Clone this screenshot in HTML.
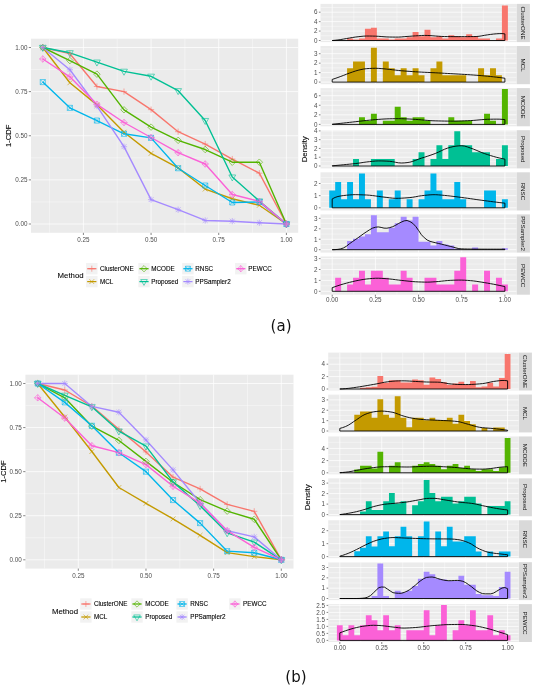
<!DOCTYPE html>
<html lang="en">
<head>
<meta charset="utf-8">
<title>CDF and density comparison of clustering methods</title>
<style>html,body{margin:0;padding:0;background:#fff}body{width:536px;height:685px;overflow:hidden}</style>
</head>
<body>
<svg width="536" height="685" viewBox="0 0 536 685" font-family='"Liberation Sans", "DejaVu Sans", sans-serif' style="display:block;filter:blur(0.45px)">
<rect width="536" height="685" fill="#fff"/>
<rect x="31" y="38.7" width="267.2" height="194.1" fill="#ebebeb"/>
<path d="M49.57 38.7V232.8M31 201.94H298.2M117.23 38.7V232.8M31 157.81H298.2M184.9 38.7V232.8M31 113.69H298.2M252.57 38.7V232.8M31 69.56H298.2" stroke="#ffffff" stroke-width="0.4" fill="none"/>
<path d="M83.4 38.7V232.8M151.07 38.7V232.8M218.73 38.7V232.8M286.4 38.7V232.8M31 224H298.2M31 179.88H298.2M31 135.75H298.2M31 91.62H298.2M31 47.5H298.2" stroke="#ffffff" stroke-width="0.75" fill="none"/>
<text x="83.4" y="241.6" text-anchor="middle" font-size="6.3" fill="#4d4d4d">0.25</text>
<text x="151.07" y="241.6" text-anchor="middle" font-size="6.3" fill="#4d4d4d">0.50</text>
<text x="218.73" y="241.6" text-anchor="middle" font-size="6.3" fill="#4d4d4d">0.75</text>
<text x="286.4" y="241.6" text-anchor="middle" font-size="6.3" fill="#4d4d4d">1.00</text>
<text x="27.4" y="226.25" text-anchor="end" font-size="6.3" fill="#4d4d4d">0.00</text>
<text x="27.4" y="182.12" text-anchor="end" font-size="6.3" fill="#4d4d4d">0.25</text>
<text x="27.4" y="138" text-anchor="end" font-size="6.3" fill="#4d4d4d">0.50</text>
<text x="27.4" y="93.88" text-anchor="end" font-size="6.3" fill="#4d4d4d">0.75</text>
<text x="27.4" y="49.75" text-anchor="end" font-size="6.3" fill="#4d4d4d">1.00</text>
<path d="M83.4 232.8v2.2M151.07 232.8v2.2M218.73 232.8v2.2M286.4 232.8v2.2M31 224h-2.2M31 179.88h-2.2M31 135.75h-2.2M31 91.62h-2.2M31 47.5h-2.2" stroke="#333" stroke-width="0.6" fill="none"/>
<text transform="translate(11.2 135.75) rotate(-90)" text-anchor="middle" font-size="7.6" fill="#000" stroke="#000" stroke-width="0.1">1-CDF</text>
<polyline points="42.8,47.5 69.87,53.68 96.93,86.51 124,91.62 151.07,109.63 178.13,131.69 205.2,144.05 232.27,159.05 259.33,173.17 286.4,224" fill="none" stroke="#F8766D" stroke-width="1.4" stroke-linejoin="round"/>
<polyline points="42.8,47.5 69.87,82.8 96.93,104.86 124,132.22 151.07,153.4 178.13,167.87 205.2,189.05 232.27,198.76 259.33,205.29 286.4,224" fill="none" stroke="#C49A00" stroke-width="1.4" stroke-linejoin="round"/>
<polyline points="42.8,47.5 69.87,60.56 96.93,74.15 124,109.8 151.07,127.1 178.13,140.34 205.2,149.52 232.27,162.22 259.33,162.22 286.4,224" fill="none" stroke="#53B400" stroke-width="1.4" stroke-linejoin="round"/>
<polyline points="42.8,47.5 69.87,52.8 96.93,62.15 124,71.33 151.07,76.27 178.13,90.74 205.2,120.57 232.27,177.05 259.33,201.06 286.4,224" fill="none" stroke="#00C094" stroke-width="1.4" stroke-linejoin="round"/>
<polyline points="42.8,82.09 69.87,107.86 96.93,120.57 124,133.81 151.07,137.87 178.13,168.23 205.2,185.52 232.27,202.47 259.33,201.94 286.4,224" fill="none" stroke="#00B6EB" stroke-width="1.4" stroke-linejoin="round"/>
<polyline points="42.8,47.5 69.87,69.74 96.93,106.1 124,146.69 151.07,199.64 178.13,209.7 205.2,220.47 232.27,221.18 259.33,222.76 286.4,224" fill="none" stroke="#A58AFF" stroke-width="1.4" stroke-linejoin="round"/>
<polyline points="42.8,58.97 69.87,76.8 96.93,104.33 124,122.51 151.07,137.51 178.13,152.69 205.2,163.99 232.27,194.52 259.33,201.41 286.4,224" fill="none" stroke="#FB61D7" stroke-width="1.4" stroke-linejoin="round"/>
<path d="M39.7 47.5H45.9M42.8 44.4V50.6" stroke="#F8766D" stroke-width="0.6" fill="none"/><path d="M66.77 53.68H72.97M69.87 50.58V56.78" stroke="#F8766D" stroke-width="0.6" fill="none"/><path d="M93.83 86.51H100.03M96.93 83.41V89.61" stroke="#F8766D" stroke-width="0.6" fill="none"/><path d="M120.9 91.62H127.1M124 88.53V94.72" stroke="#F8766D" stroke-width="0.6" fill="none"/><path d="M147.97 109.63H154.17M151.07 106.53V112.73" stroke="#F8766D" stroke-width="0.6" fill="none"/><path d="M175.03 131.69H181.23M178.13 128.59V134.79" stroke="#F8766D" stroke-width="0.6" fill="none"/><path d="M202.1 144.05H208.3M205.2 140.95V147.15" stroke="#F8766D" stroke-width="0.6" fill="none"/><path d="M229.17 159.05H235.37M232.27 155.95V162.15" stroke="#F8766D" stroke-width="0.6" fill="none"/><path d="M256.23 173.17H262.43M259.33 170.07V176.27" stroke="#F8766D" stroke-width="0.6" fill="none"/><path d="M283.3 224H289.5M286.4 220.9V227.1" stroke="#F8766D" stroke-width="0.6" fill="none"/>
<path d="M40.38 45.08L45.22 49.92M40.38 49.92L45.22 45.08" stroke="#C49A00" stroke-width="0.6" fill="none"/><path d="M67.45 80.38L72.28 85.22M67.45 85.22L72.28 80.38" stroke="#C49A00" stroke-width="0.6" fill="none"/><path d="M94.52 102.44L99.35 107.28M94.52 107.28L99.35 102.44" stroke="#C49A00" stroke-width="0.6" fill="none"/><path d="M121.58 129.8L126.42 134.64M121.58 134.64L126.42 129.8" stroke="#C49A00" stroke-width="0.6" fill="none"/><path d="M148.65 150.98L153.48 155.82M148.65 155.82L153.48 150.98" stroke="#C49A00" stroke-width="0.6" fill="none"/><path d="M175.72 165.45L180.55 170.29M175.72 170.29L180.55 165.45" stroke="#C49A00" stroke-width="0.6" fill="none"/><path d="M202.78 186.63L207.62 191.47M202.78 191.47L207.62 186.63" stroke="#C49A00" stroke-width="0.6" fill="none"/><path d="M229.85 196.34L234.68 201.18M229.85 201.18L234.68 196.34" stroke="#C49A00" stroke-width="0.6" fill="none"/><path d="M256.92 202.87L261.75 207.71M256.92 207.71L261.75 202.87" stroke="#C49A00" stroke-width="0.6" fill="none"/><path d="M283.98 221.58L288.82 226.42M283.98 226.42L288.82 221.58" stroke="#C49A00" stroke-width="0.6" fill="none"/>
<path d="M42.8 44.24L46.05 47.5L42.8 50.76L39.54 47.5Z" stroke="#53B400" stroke-width="0.6" fill="none"/><path d="M69.87 57.31L73.12 60.56L69.87 63.82L66.61 60.56Z" stroke="#53B400" stroke-width="0.6" fill="none"/><path d="M96.93 70.9L100.19 74.15L96.93 77.41L93.68 74.15Z" stroke="#53B400" stroke-width="0.6" fill="none"/><path d="M124 106.55L127.25 109.8L124 113.06L120.75 109.8Z" stroke="#53B400" stroke-width="0.6" fill="none"/><path d="M151.07 123.85L154.32 127.1L151.07 130.36L147.81 127.1Z" stroke="#53B400" stroke-width="0.6" fill="none"/><path d="M178.13 137.08L181.39 140.34L178.13 143.59L174.88 140.34Z" stroke="#53B400" stroke-width="0.6" fill="none"/><path d="M205.2 146.26L208.45 149.52L205.2 152.77L201.94 149.52Z" stroke="#53B400" stroke-width="0.6" fill="none"/><path d="M232.27 158.97L235.52 162.22L232.27 165.48L229.01 162.22Z" stroke="#53B400" stroke-width="0.6" fill="none"/><path d="M259.33 158.97L262.59 162.22L259.33 165.48L256.08 162.22Z" stroke="#53B400" stroke-width="0.6" fill="none"/><path d="M286.4 220.75L289.65 224L286.4 227.25L283.14 224Z" stroke="#53B400" stroke-width="0.6" fill="none"/>
<path d="M39.39 45.39L46.21 45.39L42.8 51.42Z" stroke="#00C094" stroke-width="0.6" fill="none"/><path d="M66.46 50.68L73.28 50.68L69.87 56.72Z" stroke="#00C094" stroke-width="0.6" fill="none"/><path d="M93.52 60.04L100.34 60.04L96.93 66.07Z" stroke="#00C094" stroke-width="0.6" fill="none"/><path d="M120.59 69.21L127.41 69.21L124 75.25Z" stroke="#00C094" stroke-width="0.6" fill="none"/><path d="M147.66 74.16L154.48 74.16L151.07 80.19Z" stroke="#00C094" stroke-width="0.6" fill="none"/><path d="M174.72 88.63L181.54 88.63L178.13 94.66Z" stroke="#00C094" stroke-width="0.6" fill="none"/><path d="M201.79 118.46L208.61 118.46L205.2 124.49Z" stroke="#00C094" stroke-width="0.6" fill="none"/><path d="M228.86 174.94L235.68 174.94L232.27 180.97Z" stroke="#00C094" stroke-width="0.6" fill="none"/><path d="M255.92 198.94L262.74 198.94L259.33 204.98Z" stroke="#00C094" stroke-width="0.6" fill="none"/><path d="M282.99 221.89L289.81 221.89L286.4 227.92Z" stroke="#00C094" stroke-width="0.6" fill="none"/>
<path d="M40.26 79.55H45.34V84.64H40.26ZM40.26 79.55L45.34 84.64M40.26 84.64L45.34 79.55" stroke="#00B6EB" stroke-width="0.6" fill="none"/><path d="M67.32 105.32H72.41V110.41H67.32ZM67.32 105.32L72.41 110.41M67.32 110.41L72.41 105.32" stroke="#00B6EB" stroke-width="0.6" fill="none"/><path d="M94.39 118.03H99.48V123.11H94.39ZM94.39 118.03L99.48 123.11M94.39 123.11L99.48 118.03" stroke="#00B6EB" stroke-width="0.6" fill="none"/><path d="M121.46 131.27H126.54V136.35H121.46ZM121.46 131.27L126.54 136.35M121.46 136.35L126.54 131.27" stroke="#00B6EB" stroke-width="0.6" fill="none"/><path d="M148.52 135.33H153.61V140.41H148.52ZM148.52 135.33L153.61 140.41M148.52 140.41L153.61 135.33" stroke="#00B6EB" stroke-width="0.6" fill="none"/><path d="M175.59 165.68H180.68V170.77H175.59ZM175.59 165.68L180.68 170.77M175.59 170.77L180.68 165.68" stroke="#00B6EB" stroke-width="0.6" fill="none"/><path d="M202.66 182.98H207.74V188.06H202.66ZM202.66 182.98L207.74 188.06M202.66 188.06L207.74 182.98" stroke="#00B6EB" stroke-width="0.6" fill="none"/><path d="M229.72 199.92H234.81V205.01H229.72ZM229.72 199.92L234.81 205.01M229.72 205.01L234.81 199.92" stroke="#00B6EB" stroke-width="0.6" fill="none"/><path d="M256.79 199.4H261.88V204.48H256.79ZM256.79 199.4L261.88 204.48M256.79 204.48L261.88 199.4" stroke="#00B6EB" stroke-width="0.6" fill="none"/><path d="M283.86 221.46H288.94V226.54H283.86ZM283.86 221.46L288.94 226.54M283.86 226.54L288.94 221.46" stroke="#00B6EB" stroke-width="0.6" fill="none"/>
<path d="M39.7 47.5H45.9M42.8 44.4V50.6M40.38 45.08L45.22 49.92M40.38 49.92L45.22 45.08" stroke="#A58AFF" stroke-width="0.6" fill="none"/><path d="M66.77 69.74H72.97M69.87 66.64V72.84M67.45 67.32L72.28 72.16M67.45 72.16L72.28 67.32" stroke="#A58AFF" stroke-width="0.6" fill="none"/><path d="M93.83 106.1H100.03M96.93 103V109.2M94.52 103.68L99.35 108.52M94.52 108.52L99.35 103.68" stroke="#A58AFF" stroke-width="0.6" fill="none"/><path d="M120.9 146.69H127.1M124 143.59V149.79M121.58 144.27L126.42 149.11M121.58 149.11L126.42 144.27" stroke="#A58AFF" stroke-width="0.6" fill="none"/><path d="M147.97 199.64H154.17M151.07 196.54V202.74M148.65 197.22L153.48 202.06M148.65 202.06L153.48 197.22" stroke="#A58AFF" stroke-width="0.6" fill="none"/><path d="M175.03 209.7H181.23M178.13 206.6V212.8M175.72 207.29L180.55 212.12M175.72 212.12L180.55 207.29" stroke="#A58AFF" stroke-width="0.6" fill="none"/><path d="M202.1 220.47H208.3M205.2 217.37V223.57M202.78 218.05L207.62 222.89M202.78 222.89L207.62 218.05" stroke="#A58AFF" stroke-width="0.6" fill="none"/><path d="M229.17 221.18H235.37M232.27 218.08V224.28M229.85 218.76L234.68 223.59M229.85 223.59L234.68 218.76" stroke="#A58AFF" stroke-width="0.6" fill="none"/><path d="M256.23 222.76H262.43M259.33 219.66V225.86M256.92 220.35L261.75 225.18M256.92 225.18L261.75 220.35" stroke="#A58AFF" stroke-width="0.6" fill="none"/><path d="M283.3 224H289.5M286.4 220.9V227.1M283.98 221.58L288.82 226.42M283.98 226.42L288.82 221.58" stroke="#A58AFF" stroke-width="0.6" fill="none"/>
<path d="M42.8 55.72L46.05 58.97L42.8 62.23L39.54 58.97ZM39.54 58.97H46.05M42.8 55.72V62.23" stroke="#FB61D7" stroke-width="0.6" fill="none"/><path d="M69.87 73.54L73.12 76.8L69.87 80.05L66.61 76.8ZM66.61 76.8H73.12M69.87 73.54V80.05" stroke="#FB61D7" stroke-width="0.6" fill="none"/><path d="M96.93 101.08L100.19 104.33L96.93 107.59L93.68 104.33ZM93.68 104.33H100.19M96.93 101.08V107.59" stroke="#FB61D7" stroke-width="0.6" fill="none"/><path d="M124 119.26L127.25 122.51L124 125.77L120.75 122.51ZM120.75 122.51H127.25M124 119.26V125.77" stroke="#FB61D7" stroke-width="0.6" fill="none"/><path d="M151.07 134.26L154.32 137.51L151.07 140.77L147.81 137.51ZM147.81 137.51H154.32M151.07 134.26V140.77" stroke="#FB61D7" stroke-width="0.6" fill="none"/><path d="M178.13 149.44L181.39 152.69L178.13 155.95L174.88 152.69ZM174.88 152.69H181.39M178.13 149.44V155.95" stroke="#FB61D7" stroke-width="0.6" fill="none"/><path d="M205.2 160.74L208.45 163.99L205.2 167.25L201.94 163.99ZM201.94 163.99H208.45M205.2 160.74V167.25" stroke="#FB61D7" stroke-width="0.6" fill="none"/><path d="M232.27 191.27L235.52 194.52L232.27 197.78L229.01 194.52ZM229.01 194.52H235.52M232.27 191.27V197.78" stroke="#FB61D7" stroke-width="0.6" fill="none"/><path d="M259.33 198.15L262.59 201.41L259.33 204.66L256.08 201.41ZM256.08 201.41H262.59M259.33 198.15V204.66" stroke="#FB61D7" stroke-width="0.6" fill="none"/><path d="M286.4 220.75L289.65 224L286.4 227.25L283.14 224ZM283.14 224H289.65M286.4 220.75V227.25" stroke="#FB61D7" stroke-width="0.6" fill="none"/>
<text x="57.6" y="277.8" font-size="7.8" fill="#000" stroke="#000" stroke-width="0.08">Method</text>
<rect x="86.1" y="263" width="11.4" height="11.4" fill="#f2f2f2"/>
<path d="M87.2 268.7H96.4" stroke="#F8766D" stroke-width="1.25"/>
<path d="M88.8 268.7H94.8M91.8 265.7V271.7" stroke="#F8766D" stroke-width="0.6" fill="none"/>
<text x="100" y="270.95" font-size="6.3" fill="#000" stroke="#000" stroke-width="0.1">ClusterONE</text>
<rect x="86.1" y="275.9" width="11.4" height="11.4" fill="#f2f2f2"/>
<path d="M87.2 281.6H96.4" stroke="#C49A00" stroke-width="1.25"/>
<path d="M89.46 279.26L94.14 283.94M89.46 283.94L94.14 279.26" stroke="#C49A00" stroke-width="0.6" fill="none"/>
<text x="100" y="283.85" font-size="6.3" fill="#000" stroke="#000" stroke-width="0.1">MCL</text>
<rect x="138.3" y="263" width="11.4" height="11.4" fill="#f2f2f2"/>
<path d="M139.4 268.7H148.6" stroke="#53B400" stroke-width="1.25"/>
<path d="M144 265.55L147.15 268.7L144 271.85L140.85 268.7Z" stroke="#53B400" stroke-width="0.6" fill="none"/>
<text x="151.3" y="270.95" font-size="6.3" fill="#000" stroke="#000" stroke-width="0.1">MCODE</text>
<rect x="138.3" y="275.9" width="11.4" height="11.4" fill="#f2f2f2"/>
<path d="M139.4 281.6H148.6" stroke="#00C094" stroke-width="1.25"/>
<path d="M140.7 279.55L147.3 279.55L144 285.4Z" stroke="#00C094" stroke-width="0.6" fill="none"/>
<text x="151.3" y="283.85" font-size="6.3" fill="#000" stroke="#000" stroke-width="0.1">Proposed</text>
<rect x="182.2" y="263" width="11.4" height="11.4" fill="#f2f2f2"/>
<path d="M183.3 268.7H192.5" stroke="#00B6EB" stroke-width="1.25"/>
<path d="M185.44 266.24H190.36V271.16H185.44ZM185.44 266.24L190.36 271.16M185.44 271.16L190.36 266.24" stroke="#00B6EB" stroke-width="0.6" fill="none"/>
<text x="195.3" y="270.95" font-size="6.3" fill="#000" stroke="#000" stroke-width="0.1">RNSC</text>
<rect x="182.2" y="275.9" width="11.4" height="11.4" fill="#f2f2f2"/>
<path d="M183.3 281.6H192.5" stroke="#A58AFF" stroke-width="1.25"/>
<path d="M184.9 281.6H190.9M187.9 278.6V284.6M185.56 279.26L190.24 283.94M185.56 283.94L190.24 279.26" stroke="#A58AFF" stroke-width="0.6" fill="none"/>
<text x="195.3" y="283.85" font-size="6.3" fill="#000" stroke="#000" stroke-width="0.1">PPSampler2</text>
<rect x="235.1" y="263" width="11.4" height="11.4" fill="#f2f2f2"/>
<path d="M236.2 268.7H245.4" stroke="#FB61D7" stroke-width="1.25"/>
<path d="M240.8 265.55L243.95 268.7L240.8 271.85L237.65 268.7ZM237.65 268.7H243.95M240.8 265.55V271.85" stroke="#FB61D7" stroke-width="0.6" fill="none"/>
<text x="248.3" y="270.95" font-size="6.3" fill="#000" stroke="#000" stroke-width="0.1">PEWCC</text>
<rect x="25.4" y="374.7" width="268.1" height="193.9" fill="#ebebeb"/>
<path d="M44.47 374.7V568.6M25.4 537.76H293.5M112.13 374.7V568.6M25.4 493.69H293.5M179.8 374.7V568.6M25.4 449.61H293.5M247.47 374.7V568.6M25.4 405.54H293.5" stroke="#ffffff" stroke-width="0.4" fill="none"/>
<path d="M78.3 374.7V568.6M145.97 374.7V568.6M213.63 374.7V568.6M281.3 374.7V568.6M25.4 559.8H293.5M25.4 515.72H293.5M25.4 471.65H293.5M25.4 427.57H293.5M25.4 383.5H293.5" stroke="#ffffff" stroke-width="0.75" fill="none"/>
<text x="78.3" y="578.2" text-anchor="middle" font-size="6.3" fill="#4d4d4d">0.25</text>
<text x="145.97" y="578.2" text-anchor="middle" font-size="6.3" fill="#4d4d4d">0.50</text>
<text x="213.63" y="578.2" text-anchor="middle" font-size="6.3" fill="#4d4d4d">0.75</text>
<text x="281.3" y="578.2" text-anchor="middle" font-size="6.3" fill="#4d4d4d">1.00</text>
<text x="21.8" y="562.05" text-anchor="end" font-size="6.3" fill="#4d4d4d">0.00</text>
<text x="21.8" y="517.97" text-anchor="end" font-size="6.3" fill="#4d4d4d">0.25</text>
<text x="21.8" y="473.9" text-anchor="end" font-size="6.3" fill="#4d4d4d">0.50</text>
<text x="21.8" y="429.82" text-anchor="end" font-size="6.3" fill="#4d4d4d">0.75</text>
<text x="21.8" y="385.75" text-anchor="end" font-size="6.3" fill="#4d4d4d">1.00</text>
<path d="M78.3 568.6v2.2M145.97 568.6v2.2M213.63 568.6v2.2M281.3 568.6v2.2M25.4 559.8h-2.2M25.4 515.72h-2.2M25.4 471.65h-2.2M25.4 427.57h-2.2M25.4 383.5h-2.2" stroke="#333" stroke-width="0.6" fill="none"/>
<text transform="translate(6.2 471.65) rotate(-90)" text-anchor="middle" font-size="7.6" fill="#000" stroke="#000" stroke-width="0.1">1-CDF</text>
<polyline points="37.7,383.5 64.77,390.02 91.83,406.07 118.9,429.34 145.97,451.9 173.03,477.12 200.1,488.93 227.17,504.44 254.23,511.32 281.3,559.8" fill="none" stroke="#F8766D" stroke-width="1.4" stroke-linejoin="round"/>
<polyline points="37.7,383.5 64.77,417 91.83,451.55 118.9,487.52 145.97,503.38 173.03,518.9 200.1,535.29 227.17,552.57 254.23,556.63 281.3,559.8" fill="none" stroke="#C49A00" stroke-width="1.4" stroke-linejoin="round"/>
<polyline points="37.7,383.5 64.77,397.78 91.83,426.16 118.9,440.44 145.97,461.42 173.03,482.23 200.1,499.68 227.17,511.14 254.23,519.25 281.3,559.8" fill="none" stroke="#53B400" stroke-width="1.4" stroke-linejoin="round"/>
<polyline points="37.7,383.5 64.77,395.31 91.83,406.77 118.9,431.1 145.97,446.09 173.03,481.88 200.1,505.68 227.17,532.83 254.23,542.17 281.3,559.8" fill="none" stroke="#00C094" stroke-width="1.4" stroke-linejoin="round"/>
<polyline points="37.7,383.5 64.77,402.36 91.83,425.81 118.9,452.79 145.97,471.65 173.03,500.03 200.1,523.13 227.17,551.16 254.23,552.75 281.3,559.8" fill="none" stroke="#00B6EB" stroke-width="1.4" stroke-linejoin="round"/>
<polyline points="37.7,383.5 64.77,383.5 91.83,406.42 118.9,412.24 145.97,439.92 173.03,469.89 200.1,503.03 227.17,530.71 254.23,536.88 281.3,559.8" fill="none" stroke="#A58AFF" stroke-width="1.4" stroke-linejoin="round"/>
<polyline points="37.7,397.78 64.77,418.05 91.83,445.73 118.9,452.61 145.97,464.6 173.03,486.28 200.1,503.21 227.17,530.71 254.23,547.28 281.3,559.8" fill="none" stroke="#FB61D7" stroke-width="1.4" stroke-linejoin="round"/>
<path d="M34.6 383.5H40.8M37.7 380.4V386.6" stroke="#F8766D" stroke-width="0.6" fill="none"/><path d="M61.67 390.02H67.87M64.77 386.92V393.12" stroke="#F8766D" stroke-width="0.6" fill="none"/><path d="M88.73 406.07H94.93M91.83 402.97V409.17" stroke="#F8766D" stroke-width="0.6" fill="none"/><path d="M115.8 429.34H122M118.9 426.24V432.44" stroke="#F8766D" stroke-width="0.6" fill="none"/><path d="M142.87 451.9H149.07M145.97 448.8V455" stroke="#F8766D" stroke-width="0.6" fill="none"/><path d="M169.93 477.12H176.13M173.03 474.02V480.22" stroke="#F8766D" stroke-width="0.6" fill="none"/><path d="M197 488.93H203.2M200.1 485.83V492.03" stroke="#F8766D" stroke-width="0.6" fill="none"/><path d="M224.07 504.44H230.27M227.17 501.34V507.54" stroke="#F8766D" stroke-width="0.6" fill="none"/><path d="M251.13 511.32H257.33M254.23 508.22V514.42" stroke="#F8766D" stroke-width="0.6" fill="none"/><path d="M278.2 559.8H284.4M281.3 556.7V562.9" stroke="#F8766D" stroke-width="0.6" fill="none"/>
<path d="M35.28 381.08L40.12 385.92M35.28 385.92L40.12 381.08" stroke="#C49A00" stroke-width="0.6" fill="none"/><path d="M62.35 414.58L67.18 419.41M62.35 419.41L67.18 414.58" stroke="#C49A00" stroke-width="0.6" fill="none"/><path d="M89.42 449.13L94.25 453.97M89.42 453.97L94.25 449.13" stroke="#C49A00" stroke-width="0.6" fill="none"/><path d="M116.48 485.1L121.32 489.94M116.48 489.94L121.32 485.1" stroke="#C49A00" stroke-width="0.6" fill="none"/><path d="M143.55 500.97L148.38 505.8M143.55 505.8L148.38 500.97" stroke="#C49A00" stroke-width="0.6" fill="none"/><path d="M170.62 516.48L175.45 521.32M170.62 521.32L175.45 516.48" stroke="#C49A00" stroke-width="0.6" fill="none"/><path d="M197.68 532.88L202.52 537.71M197.68 537.71L202.52 532.88" stroke="#C49A00" stroke-width="0.6" fill="none"/><path d="M224.75 550.15L229.58 554.99M224.75 554.99L229.58 550.15" stroke="#C49A00" stroke-width="0.6" fill="none"/><path d="M251.82 554.21L256.65 559.04M251.82 559.04L256.65 554.21" stroke="#C49A00" stroke-width="0.6" fill="none"/><path d="M278.88 557.38L283.72 562.22M278.88 562.22L283.72 557.38" stroke="#C49A00" stroke-width="0.6" fill="none"/>
<path d="M37.7 380.25L40.96 383.5L37.7 386.75L34.45 383.5Z" stroke="#53B400" stroke-width="0.6" fill="none"/><path d="M64.77 394.53L68.02 397.78L64.77 401.04L61.51 397.78Z" stroke="#53B400" stroke-width="0.6" fill="none"/><path d="M91.83 422.91L95.09 426.16L91.83 429.42L88.58 426.16Z" stroke="#53B400" stroke-width="0.6" fill="none"/><path d="M118.9 437.19L122.16 440.44L118.9 443.7L115.65 440.44Z" stroke="#53B400" stroke-width="0.6" fill="none"/><path d="M145.97 458.17L149.22 461.42L145.97 464.68L142.71 461.42Z" stroke="#53B400" stroke-width="0.6" fill="none"/><path d="M173.03 478.97L176.29 482.23L173.03 485.48L169.78 482.23Z" stroke="#53B400" stroke-width="0.6" fill="none"/><path d="M200.1 496.43L203.36 499.68L200.1 502.94L196.85 499.68Z" stroke="#53B400" stroke-width="0.6" fill="none"/><path d="M227.17 507.89L230.42 511.14L227.17 514.4L223.91 511.14Z" stroke="#53B400" stroke-width="0.6" fill="none"/><path d="M254.23 516L257.49 519.25L254.23 522.51L250.98 519.25Z" stroke="#53B400" stroke-width="0.6" fill="none"/><path d="M281.3 556.54L284.56 559.8L281.3 563.05L278.05 559.8Z" stroke="#53B400" stroke-width="0.6" fill="none"/>
<path d="M34.29 381.39L41.11 381.39L37.7 387.42Z" stroke="#00C094" stroke-width="0.6" fill="none"/><path d="M61.36 393.2L68.18 393.2L64.77 399.23Z" stroke="#00C094" stroke-width="0.6" fill="none"/><path d="M88.42 404.66L95.24 404.66L91.83 410.69Z" stroke="#00C094" stroke-width="0.6" fill="none"/><path d="M115.49 428.99L122.31 428.99L118.9 435.02Z" stroke="#00C094" stroke-width="0.6" fill="none"/><path d="M142.56 443.97L149.38 443.97L145.97 450.01Z" stroke="#00C094" stroke-width="0.6" fill="none"/><path d="M169.62 479.76L176.44 479.76L173.03 485.8Z" stroke="#00C094" stroke-width="0.6" fill="none"/><path d="M196.69 503.56L203.51 503.56L200.1 509.6Z" stroke="#00C094" stroke-width="0.6" fill="none"/><path d="M223.76 530.71L230.58 530.71L227.17 536.75Z" stroke="#00C094" stroke-width="0.6" fill="none"/><path d="M250.82 540.06L257.64 540.06L254.23 546.09Z" stroke="#00C094" stroke-width="0.6" fill="none"/><path d="M277.89 557.69L284.71 557.69L281.3 563.72Z" stroke="#00C094" stroke-width="0.6" fill="none"/>
<path d="M35.16 380.96H40.24V386.04H35.16ZM35.16 380.96L40.24 386.04M35.16 386.04L40.24 380.96" stroke="#00B6EB" stroke-width="0.6" fill="none"/><path d="M62.22 399.82H67.31V404.91H62.22ZM62.22 399.82L67.31 404.91M62.22 404.91L67.31 399.82" stroke="#00B6EB" stroke-width="0.6" fill="none"/><path d="M89.29 423.27H94.38V428.35H89.29ZM89.29 423.27L94.38 428.35M89.29 428.35L94.38 423.27" stroke="#00B6EB" stroke-width="0.6" fill="none"/><path d="M116.36 450.24H121.44V455.33H116.36ZM116.36 450.24L121.44 455.33M116.36 455.33L121.44 450.24" stroke="#00B6EB" stroke-width="0.6" fill="none"/><path d="M143.42 469.11H148.51V474.19H143.42ZM143.42 469.11L148.51 474.19M143.42 474.19L148.51 469.11" stroke="#00B6EB" stroke-width="0.6" fill="none"/><path d="M170.49 497.49H175.58V502.58H170.49ZM170.49 497.49L175.58 502.58M170.49 502.58L175.58 497.49" stroke="#00B6EB" stroke-width="0.6" fill="none"/><path d="M197.56 520.59H202.64V525.67H197.56ZM197.56 520.59L202.64 525.67M197.56 525.67L202.64 520.59" stroke="#00B6EB" stroke-width="0.6" fill="none"/><path d="M224.62 548.62H229.71V553.7H224.62ZM224.62 548.62L229.71 553.7M224.62 553.7L229.71 548.62" stroke="#00B6EB" stroke-width="0.6" fill="none"/><path d="M251.69 550.21H256.78V555.29H251.69ZM251.69 550.21L256.78 555.29M251.69 555.29L256.78 550.21" stroke="#00B6EB" stroke-width="0.6" fill="none"/><path d="M278.76 557.26H283.84V562.34H278.76ZM278.76 557.26L283.84 562.34M278.76 562.34L283.84 557.26" stroke="#00B6EB" stroke-width="0.6" fill="none"/>
<path d="M34.6 383.5H40.8M37.7 380.4V386.6M35.28 381.08L40.12 385.92M35.28 385.92L40.12 381.08" stroke="#A58AFF" stroke-width="0.6" fill="none"/><path d="M61.67 383.5H67.87M64.77 380.4V386.6M62.35 381.08L67.18 385.92M62.35 385.92L67.18 381.08" stroke="#A58AFF" stroke-width="0.6" fill="none"/><path d="M88.73 406.42H94.93M91.83 403.32V409.52M89.42 404L94.25 408.84M89.42 408.84L94.25 404" stroke="#A58AFF" stroke-width="0.6" fill="none"/><path d="M115.8 412.24H122M118.9 409.14V415.34M116.48 409.82L121.32 414.65M116.48 414.65L121.32 409.82" stroke="#A58AFF" stroke-width="0.6" fill="none"/><path d="M142.87 439.92H149.07M145.97 436.82V443.02M143.55 437.5L148.38 442.33M143.55 442.33L148.38 437.5" stroke="#A58AFF" stroke-width="0.6" fill="none"/><path d="M169.93 469.89H176.13M173.03 466.79V472.99M170.62 467.47L175.45 472.3M170.62 472.3L175.45 467.47" stroke="#A58AFF" stroke-width="0.6" fill="none"/><path d="M197 503.03H203.2M200.1 499.93V506.13M197.68 500.61L202.52 505.45M197.68 505.45L202.52 500.61" stroke="#A58AFF" stroke-width="0.6" fill="none"/><path d="M224.07 530.71H230.27M227.17 527.61V533.81M224.75 528.29L229.58 533.13M224.75 533.13L229.58 528.29" stroke="#A58AFF" stroke-width="0.6" fill="none"/><path d="M251.13 536.88H257.33M254.23 533.78V539.98M251.82 534.46L256.65 539.3M251.82 539.3L256.65 534.46" stroke="#A58AFF" stroke-width="0.6" fill="none"/><path d="M278.2 559.8H284.4M281.3 556.7V562.9M278.88 557.38L283.72 562.22M278.88 562.22L283.72 557.38" stroke="#A58AFF" stroke-width="0.6" fill="none"/>
<path d="M37.7 394.53L40.96 397.78L37.7 401.04L34.45 397.78ZM34.45 397.78H40.96M37.7 394.53V401.04" stroke="#FB61D7" stroke-width="0.6" fill="none"/><path d="M64.77 414.8L68.02 418.05L64.77 421.31L61.51 418.05ZM61.51 418.05H68.02M64.77 414.8V421.31" stroke="#FB61D7" stroke-width="0.6" fill="none"/><path d="M91.83 442.48L95.09 445.73L91.83 448.99L88.58 445.73ZM88.58 445.73H95.09M91.83 442.48V448.99" stroke="#FB61D7" stroke-width="0.6" fill="none"/><path d="M118.9 449.35L122.16 452.61L118.9 455.86L115.65 452.61ZM115.65 452.61H122.16M118.9 449.35V455.86" stroke="#FB61D7" stroke-width="0.6" fill="none"/><path d="M145.97 461.34L149.22 464.6L145.97 467.85L142.71 464.6ZM142.71 464.6H149.22M145.97 461.34V467.85" stroke="#FB61D7" stroke-width="0.6" fill="none"/><path d="M173.03 483.03L176.29 486.28L173.03 489.54L169.78 486.28ZM169.78 486.28H176.29M173.03 483.03V489.54" stroke="#FB61D7" stroke-width="0.6" fill="none"/><path d="M200.1 499.95L203.36 503.21L200.1 506.46L196.85 503.21ZM196.85 503.21H203.36M200.1 499.95V506.46" stroke="#FB61D7" stroke-width="0.6" fill="none"/><path d="M227.17 527.46L230.42 530.71L227.17 533.97L223.91 530.71ZM223.91 530.71H230.42M227.17 527.46V533.97" stroke="#FB61D7" stroke-width="0.6" fill="none"/><path d="M254.23 544.03L257.49 547.28L254.23 550.54L250.98 547.28ZM250.98 547.28H257.49M254.23 544.03V550.54" stroke="#FB61D7" stroke-width="0.6" fill="none"/><path d="M281.3 556.54L284.56 559.8L281.3 563.05L278.05 559.8ZM278.05 559.8H284.56M281.3 556.54V563.05" stroke="#FB61D7" stroke-width="0.6" fill="none"/>
<text x="52" y="614.2" font-size="7.8" fill="#000" stroke="#000" stroke-width="0.08">Method</text>
<rect x="80.2" y="598.3" width="11.4" height="11.4" fill="#f2f2f2"/>
<path d="M81.3 604H90.5" stroke="#F8766D" stroke-width="1.25"/>
<path d="M82.9 604H88.9M85.9 601V607" stroke="#F8766D" stroke-width="0.6" fill="none"/>
<text x="93.9" y="606.25" font-size="6.3" fill="#000" stroke="#000" stroke-width="0.1">ClusterONE</text>
<rect x="80.2" y="611.3" width="11.4" height="11.4" fill="#f2f2f2"/>
<path d="M81.3 617H90.5" stroke="#C49A00" stroke-width="1.25"/>
<path d="M83.56 614.66L88.24 619.34M83.56 619.34L88.24 614.66" stroke="#C49A00" stroke-width="0.6" fill="none"/>
<text x="93.9" y="619.25" font-size="6.3" fill="#000" stroke="#000" stroke-width="0.1">MCL</text>
<rect x="131.3" y="598.3" width="11.4" height="11.4" fill="#f2f2f2"/>
<path d="M132.4 604H141.6" stroke="#53B400" stroke-width="1.25"/>
<path d="M137 600.85L140.15 604L137 607.15L133.85 604Z" stroke="#53B400" stroke-width="0.6" fill="none"/>
<text x="145.2" y="606.25" font-size="6.3" fill="#000" stroke="#000" stroke-width="0.1">MCODE</text>
<rect x="131.3" y="611.3" width="11.4" height="11.4" fill="#f2f2f2"/>
<path d="M132.4 617H141.6" stroke="#00C094" stroke-width="1.25"/>
<path d="M133.7 614.95L140.3 614.95L137 620.79Z" stroke="#00C094" stroke-width="0.6" fill="none"/>
<text x="145.2" y="619.25" font-size="6.3" fill="#000" stroke="#000" stroke-width="0.1">Proposed</text>
<rect x="176.4" y="598.3" width="11.4" height="11.4" fill="#f2f2f2"/>
<path d="M177.5 604H186.7" stroke="#00B6EB" stroke-width="1.25"/>
<path d="M179.64 601.54H184.56V606.46H179.64ZM179.64 601.54L184.56 606.46M179.64 606.46L184.56 601.54" stroke="#00B6EB" stroke-width="0.6" fill="none"/>
<text x="190.2" y="606.25" font-size="6.3" fill="#000" stroke="#000" stroke-width="0.1">RNSC</text>
<rect x="176.4" y="611.3" width="11.4" height="11.4" fill="#f2f2f2"/>
<path d="M177.5 617H186.7" stroke="#A58AFF" stroke-width="1.25"/>
<path d="M179.1 617H185.1M182.1 614V620M179.76 614.66L184.44 619.34M179.76 619.34L184.44 614.66" stroke="#A58AFF" stroke-width="0.6" fill="none"/>
<text x="190.2" y="619.25" font-size="6.3" fill="#000" stroke="#000" stroke-width="0.1">PPSampler2</text>
<rect x="229.2" y="598.3" width="11.4" height="11.4" fill="#f2f2f2"/>
<path d="M230.3 604H239.5" stroke="#FB61D7" stroke-width="1.25"/>
<path d="M234.9 600.85L238.05 604L234.9 607.15L231.75 604ZM231.75 604H238.05M234.9 600.85V607.15" stroke="#FB61D7" stroke-width="0.6" fill="none"/>
<text x="243.1" y="606.25" font-size="6.3" fill="#000" stroke="#000" stroke-width="0.1">PEWCC</text>
<rect x="320.5" y="3.9" width="195.9" height="38.2" fill="#ebebeb"/>
<rect x="516.6" y="3.9" width="13.3" height="38.2" fill="#d9d9d9"/>
<path d="M353.79 3.9V42.1M396.96 3.9V42.1M440.14 3.9V42.1M483.31 3.9V42.1M320.5 35.78H516.4M320.5 26.35H516.4M320.5 16.92H516.4M320.5 7.49H516.4" stroke="#ffffff" stroke-width="0.4" fill="none"/>
<text x="317.6" y="42.75" text-anchor="end" font-size="6.3" fill="#4d4d4d">0</text>
<text x="317.6" y="33.32" text-anchor="end" font-size="6.3" fill="#4d4d4d">2</text>
<text x="317.6" y="23.89" text-anchor="end" font-size="6.3" fill="#4d4d4d">4</text>
<text x="317.6" y="14.45" text-anchor="end" font-size="6.3" fill="#4d4d4d">6</text>
<path d="M332.2 3.9V42.1M375.38 3.9V42.1M418.55 3.9V42.1M461.72 3.9V42.1M504.9 3.9V42.1M320.5 40.5H516.4M320.5 31.07H516.4M320.5 21.64H516.4M320.5 12.2H516.4" stroke="#ffffff" stroke-width="0.75" fill="none"/>
<path d="M320.5 40.5h-1.6M320.5 31.07h-1.6M320.5 21.64h-1.6M320.5 12.2h-1.6" stroke="#333" stroke-width="0.6" fill="none"/>
<path d="M347.09 40.5H353.04V38.38H347.09ZM353.04 40.5H359V39.46H353.04ZM359 40.5H364.95V38.38H359ZM364.95 40.5H370.91V28.76H364.95ZM370.91 40.5H376.86V27.72H370.91ZM376.86 40.5H382.82V38.38H376.86ZM382.82 40.5H388.77V38.38H382.82ZM388.77 40.5H394.73V39.46H388.77ZM394.73 40.5H400.68V38.38H394.73ZM400.68 40.5H406.64V38.38H400.68ZM406.64 40.5H412.59V37.34H406.64ZM412.59 40.5H418.55V32.01H412.59ZM418.55 40.5H424.51V36.26H418.55ZM424.51 40.5H430.46V29.65H424.51ZM430.46 40.5H436.42V37.34H430.46ZM436.42 40.5H442.37V36.26H436.42ZM442.37 40.5H448.33V38.38H442.37ZM448.33 40.5H454.28V35.22H448.33ZM454.28 40.5H460.24V36.26H454.28ZM460.24 40.5H466.19V37.34H460.24ZM466.19 40.5H472.15V34.13H466.19ZM472.15 40.5H478.1V36.26H472.15ZM478.1 40.5H484.06V38.38H478.1ZM484.06 40.5H490.01V38.38H484.06ZM495.97 40.5H501.92V38.38H495.97ZM501.92 40.5H507.88V5.6H501.92Z" fill="#F8766D"/>
<path d="M332.2 40.5L332.2 40.5L335.08 40.26L337.96 39.94L340.83 39.54L343.71 39.02L346.59 38.52L349.47 38.03L352.35 37.53L355.23 37.09L358.1 36.73L360.98 36.41L363.86 36.14L366.74 36.02L369.62 36.04L372.5 36.09L375.38 36.16L378.25 36.29L381.13 36.5L384.01 36.74L386.89 36.93L389.77 37.02L392.64 37.07L395.52 37.1L398.4 37.1L401.28 36.95L404.16 36.68L407.04 36.45L409.91 36.25L412.79 36.04L415.67 35.85L418.55 35.69L421.43 35.53L424.31 35.42L427.19 35.44L430.06 35.59L432.94 35.81L435.82 36.02L438.7 36.22L441.58 36.43L444.45 36.54L447.33 36.57L450.21 36.6L453.09 36.61L455.97 36.63L458.85 36.63L461.72 36.63L464.6 36.62L467.48 36.61L470.36 36.59L473.24 36.56L476.12 36.52L479 36.27L481.87 35.82L484.75 35.29L487.63 34.84L490.51 34.45L493.39 34.07L496.26 33.8L499.14 33.63L502.02 33.58L504.9 33.9L504.9 40.5Z" fill="none" stroke="#000" stroke-width="0.9" stroke-linejoin="miter"/>
<text transform="translate(521.05 23) rotate(90)" text-anchor="middle" font-size="6.2" fill="#111">ClusterONE</text>
<rect x="320.5" y="46" width="195.9" height="38.2" fill="#ebebeb"/>
<rect x="516.6" y="46" width="13.3" height="38.2" fill="#d9d9d9"/>
<path d="M353.79 46V84.2M396.96 46V84.2M440.14 46V84.2M483.31 46V84.2M320.5 77.36H516.4M320.5 67.89H516.4M320.5 58.42H516.4M320.5 48.95H516.4" stroke="#ffffff" stroke-width="0.4" fill="none"/>
<text x="317.6" y="84.35" text-anchor="end" font-size="6.3" fill="#4d4d4d">0</text>
<text x="317.6" y="74.88" text-anchor="end" font-size="6.3" fill="#4d4d4d">1</text>
<text x="317.6" y="65.41" text-anchor="end" font-size="6.3" fill="#4d4d4d">2</text>
<text x="317.6" y="55.94" text-anchor="end" font-size="6.3" fill="#4d4d4d">3</text>
<path d="M332.2 46V84.2M375.38 46V84.2M418.55 46V84.2M461.72 46V84.2M504.9 46V84.2M320.5 82.1H516.4M320.5 72.63H516.4M320.5 63.16H516.4M320.5 53.69H516.4" stroke="#ffffff" stroke-width="0.75" fill="none"/>
<path d="M320.5 82.1h-1.6M320.5 72.63h-1.6M320.5 63.16h-1.6M320.5 53.69h-1.6" stroke="#333" stroke-width="0.6" fill="none"/>
<path d="M347.09 82.1H353.04V68.37H347.09ZM353.04 82.1H359V61.5H353.04ZM359 82.1H364.95V61.5H359ZM370.91 82.1H376.86V47.77H370.91ZM382.82 82.1H388.77V61.5H382.82ZM388.77 82.1H394.73V68.37H388.77ZM394.73 82.1H400.68V75.23H394.73ZM400.68 82.1H406.64V68.37H400.68ZM406.64 82.1H412.59V75.23H406.64ZM412.59 82.1H418.55V68.37H412.59ZM418.55 82.1H424.51V75.23H418.55ZM430.46 82.1H436.42V68.37H430.46ZM436.42 82.1H442.37V61.5H436.42ZM442.37 82.1H448.33V75.23H442.37ZM448.33 82.1H454.28V75.23H448.33ZM454.28 82.1H460.24V75.23H454.28ZM460.24 82.1H466.19V75.23H460.24ZM478.1 82.1H484.06V68.37H478.1ZM484.06 82.1H490.01V75.23H484.06ZM490.01 82.1H495.97V68.37H490.01ZM495.97 82.1H501.92V75.23H495.97Z" fill="#C49A00"/>
<path d="M332.2 82.1L332.2 79.45L335.08 78.47L337.96 77.46L340.83 76.42L343.71 75.32L346.59 74.18L349.47 73.1L352.35 72.07L355.23 71.08L358.1 70.26L360.98 69.59L363.86 69.01L366.74 68.65L369.62 68.46L372.5 68.33L375.38 68.27L378.25 68.37L381.13 68.59L384.01 68.84L386.89 69.11L389.77 69.43L392.64 69.78L395.52 70.13L398.4 70.45L401.28 70.74L404.16 70.98L407.04 71.2L409.91 71.41L412.79 71.61L415.67 71.79L418.55 71.97L421.43 72.13L424.31 72.27L427.19 72.41L430.06 72.54L432.94 72.68L435.82 72.82L438.7 72.97L441.58 73.12L444.45 73.28L447.33 73.44L450.21 73.6L453.09 73.77L455.97 73.93L458.85 74.09L461.72 74.26L464.6 74.43L467.48 74.61L470.36 74.81L473.24 75.01L476.12 75.23L479 75.46L481.87 75.7L484.75 75.96L487.63 76.23L490.51 76.52L493.39 76.82L496.26 77.15L499.14 77.49L502.02 77.85L504.9 78.22L504.9 82.1Z" fill="none" stroke="#000" stroke-width="0.9" stroke-linejoin="miter"/>
<text transform="translate(521.05 65.1) rotate(90)" text-anchor="middle" font-size="6.2" fill="#111">MCL</text>
<rect x="320.5" y="88.1" width="195.9" height="38.2" fill="#ebebeb"/>
<rect x="516.6" y="88.1" width="13.3" height="38.2" fill="#d9d9d9"/>
<path d="M353.79 88.1V126.3M396.96 88.1V126.3M440.14 88.1V126.3M483.31 88.1V126.3M320.5 119.62H516.4M320.5 110.06H516.4M320.5 100.5H516.4M320.5 90.94H516.4" stroke="#ffffff" stroke-width="0.4" fill="none"/>
<text x="317.6" y="126.65" text-anchor="end" font-size="6.3" fill="#4d4d4d">0</text>
<text x="317.6" y="117.09" text-anchor="end" font-size="6.3" fill="#4d4d4d">2</text>
<text x="317.6" y="107.53" text-anchor="end" font-size="6.3" fill="#4d4d4d">4</text>
<text x="317.6" y="97.97" text-anchor="end" font-size="6.3" fill="#4d4d4d">6</text>
<path d="M332.2 88.1V126.3M375.38 88.1V126.3M418.55 88.1V126.3M461.72 88.1V126.3M504.9 88.1V126.3M320.5 124.4H516.4M320.5 114.84H516.4M320.5 105.28H516.4M320.5 95.72H516.4" stroke="#ffffff" stroke-width="0.75" fill="none"/>
<path d="M320.5 124.4h-1.6M320.5 114.84h-1.6M320.5 105.28h-1.6M320.5 95.72h-1.6" stroke="#333" stroke-width="0.6" fill="none"/>
<path d="M359 124.4H364.95V117.33H359ZM364.95 124.4H370.91V120.86H364.95ZM370.91 124.4H376.86V113.79H370.91ZM382.82 124.4H388.77V120.86H382.82ZM388.77 124.4H394.73V120.86H388.77ZM394.73 124.4H400.68V106.71H394.73ZM400.68 124.4H406.64V117.33H400.68ZM406.64 124.4H412.59V120.86H406.64ZM412.59 124.4H418.55V117.33H412.59ZM418.55 124.4H424.51V117.33H418.55ZM424.51 124.4H430.46V120.86H424.51ZM448.33 124.4H454.28V117.33H448.33ZM454.28 124.4H460.24V120.86H454.28ZM460.24 124.4H466.19V120.86H460.24ZM466.19 124.4H472.15V120.86H466.19ZM484.06 124.4H490.01V113.79H484.06ZM490.01 124.4H495.97V120.86H490.01ZM501.92 124.4H507.88V89.03H501.92Z" fill="#53B400"/>
<path d="M332.2 124.4L332.2 124.26L335.08 123.96L337.96 123.65L340.83 123.34L343.71 123.03L346.59 122.71L349.47 122.39L352.35 122.06L355.23 121.73L358.1 121.42L360.98 121.09L363.86 120.76L366.74 120.44L369.62 120.13L372.5 119.86L375.38 119.62L378.25 119.41L381.13 119.2L384.01 119.02L386.89 118.88L389.77 118.79L392.64 118.73L395.52 118.68L398.4 118.67L401.28 118.71L404.16 118.8L407.04 118.92L409.91 119.05L412.79 119.21L415.67 119.41L418.55 119.62L421.43 119.85L424.31 120.11L427.19 120.37L430.06 120.61L432.94 120.77L435.82 120.86L438.7 120.94L441.58 121.01L444.45 121.07L447.33 121.11L450.21 121.14L453.09 121.15L455.97 121.13L458.85 121.06L461.72 120.96L464.6 120.84L467.48 120.71L470.36 120.58L473.24 120.41L476.12 120.18L479 119.92L481.87 119.67L484.75 119.44L487.63 119.29L490.51 119.22L493.39 119.17L496.26 119.15L499.14 119.16L502.02 119.34L504.9 119.62L504.9 124.4Z" fill="none" stroke="#000" stroke-width="0.9" stroke-linejoin="miter"/>
<text transform="translate(521.05 107.2) rotate(90)" text-anchor="middle" font-size="6.2" fill="#111">MCODE</text>
<rect x="320.5" y="130.2" width="195.9" height="38.2" fill="#ebebeb"/>
<rect x="516.6" y="130.2" width="13.3" height="38.2" fill="#d9d9d9"/>
<path d="M353.79 130.2V168.4M396.96 130.2V168.4M440.14 130.2V168.4M483.31 130.2V168.4M320.5 161.61H516.4M320.5 152.83H516.4M320.5 144.05H516.4M320.5 135.27H516.4" stroke="#ffffff" stroke-width="0.4" fill="none"/>
<text x="317.6" y="168.25" text-anchor="end" font-size="6.3" fill="#4d4d4d">0</text>
<text x="317.6" y="159.47" text-anchor="end" font-size="6.3" fill="#4d4d4d">1</text>
<text x="317.6" y="150.69" text-anchor="end" font-size="6.3" fill="#4d4d4d">2</text>
<text x="317.6" y="141.91" text-anchor="end" font-size="6.3" fill="#4d4d4d">3</text>
<text x="317.6" y="133.13" text-anchor="end" font-size="6.3" fill="#4d4d4d">4</text>
<path d="M332.2 130.2V168.4M375.38 130.2V168.4M418.55 130.2V168.4M461.72 130.2V168.4M504.9 130.2V168.4M320.5 166H516.4M320.5 157.22H516.4M320.5 148.44H516.4M320.5 139.66H516.4M320.5 130.88H516.4" stroke="#ffffff" stroke-width="0.75" fill="none"/>
<path d="M320.5 166h-1.6M320.5 157.22h-1.6M320.5 148.44h-1.6M320.5 139.66h-1.6M320.5 130.88h-1.6" stroke="#333" stroke-width="0.6" fill="none"/>
<path d="M353.04 166H359V159.06H353.04ZM370.91 166H376.86V159.06H370.91ZM376.86 166H382.82V159.06H376.86ZM382.82 166H388.77V159.06H382.82ZM388.77 166H394.73V159.06H388.77ZM412.59 166H418.55V159.06H412.59ZM418.55 166H424.51V152.13H418.55ZM430.46 166H436.42V159.06H430.46ZM436.42 166H442.37V145.19H436.42ZM442.37 166H448.33V159.06H442.37ZM448.33 166H454.28V145.19H448.33ZM454.28 166H460.24V131.32H454.28ZM460.24 166H466.19V145.19H460.24ZM466.19 166H472.15V145.19H466.19ZM472.15 166H478.1V152.13H472.15ZM478.1 166H484.06V152.13H478.1ZM484.06 166H490.01V152.13H484.06ZM495.97 166H501.92V159.06H495.97ZM501.92 166H507.88V145.19H501.92Z" fill="#00C094"/>
<path d="M332.2 166L332.2 165.82L335.08 165.56L337.96 165.29L340.83 165.02L343.71 164.74L346.59 164.46L349.47 164.18L352.35 163.89L355.23 163.58L358.1 163.23L360.98 162.8L363.86 162.34L366.74 161.96L369.62 161.63L372.5 161.3L375.38 161.04L378.25 160.91L381.13 160.93L384.01 161.01L386.89 161.14L389.77 161.3L392.64 161.7L395.52 162.28L398.4 162.79L401.28 163.01L404.16 162.9L407.04 162.62L409.91 162.17L412.79 161.35L415.67 160.31L418.55 159.15L421.43 158.18L424.31 157.28L427.19 156.34L430.06 155.36L432.94 154.35L435.82 153.27L438.7 152.01L441.58 150.6L444.45 149.26L447.33 148.19L450.21 147.36L453.09 146.63L455.97 146.13L458.85 145.85L461.72 145.72L464.6 146.07L467.48 146.94L470.36 148L473.24 149.02L476.12 150.18L479 151.43L481.87 152.61L484.75 153.66L487.63 154.64L490.51 155.55L493.39 156.42L496.26 157.22L499.14 157.94L502.02 158.58L504.9 159.15L504.9 166Z" fill="none" stroke="#000" stroke-width="0.9" stroke-linejoin="miter"/>
<text transform="translate(521.05 149.3) rotate(90)" text-anchor="middle" font-size="6.2" fill="#111">Proposed</text>
<rect x="320.5" y="172.3" width="195.9" height="38.2" fill="#ebebeb"/>
<rect x="516.6" y="172.3" width="13.3" height="38.2" fill="#d9d9d9"/>
<path d="M353.79 172.3V210.5M396.96 172.3V210.5M440.14 172.3V210.5M483.31 172.3V210.5M320.5 201.73H516.4M320.5 189.58H516.4M320.5 177.43H516.4" stroke="#ffffff" stroke-width="0.4" fill="none"/>
<text x="317.6" y="210.05" text-anchor="end" font-size="6.3" fill="#4d4d4d">0</text>
<text x="317.6" y="197.9" text-anchor="end" font-size="6.3" fill="#4d4d4d">1</text>
<text x="317.6" y="185.75" text-anchor="end" font-size="6.3" fill="#4d4d4d">2</text>
<path d="M332.2 172.3V210.5M375.38 172.3V210.5M418.55 172.3V210.5M461.72 172.3V210.5M504.9 172.3V210.5M320.5 207.8H516.4M320.5 195.65H516.4M320.5 183.5H516.4" stroke="#ffffff" stroke-width="0.75" fill="none"/>
<path d="M320.5 207.8h-1.6M320.5 195.65h-1.6M320.5 183.5h-1.6" stroke="#333" stroke-width="0.6" fill="none"/>
<path d="M329.22 207.8H335.18V190.62H329.22ZM335.18 207.8H341.13V182.03H335.18ZM341.13 207.8H347.09V199.21H341.13ZM347.09 207.8H353.04V182.03H347.09ZM353.04 207.8H359V199.21H353.04ZM359 207.8H364.95V173.44H359ZM364.95 207.8H370.91V199.21H364.95ZM376.86 207.8H382.82V190.62H376.86ZM388.77 207.8H394.73V199.21H388.77ZM394.73 207.8H400.68V190.62H394.73ZM406.64 207.8H412.59V199.21H406.64ZM418.55 207.8H424.51V199.21H418.55ZM424.51 207.8H430.46V190.62H424.51ZM430.46 207.8H436.42V173.44H430.46ZM436.42 207.8H442.37V190.62H436.42ZM442.37 207.8H448.33V199.21H442.37ZM448.33 207.8H454.28V199.21H448.33ZM454.28 207.8H460.24V182.03H454.28ZM460.24 207.8H466.19V199.21H460.24ZM484.06 207.8H490.01V190.62H484.06ZM490.01 207.8H495.97V190.62H490.01ZM501.92 207.8H507.88V199.21H501.92Z" fill="#00B6EB"/>
<path d="M332.2 207.8L332.2 198.93L335.08 197.44L337.96 196.49L340.83 195.93L343.71 195.53L346.59 195.23L349.47 194.95L352.35 194.74L355.23 194.68L358.1 194.72L360.98 194.8L363.86 194.91L366.74 195.04L369.62 195.25L372.5 195.56L375.38 195.94L378.25 196.35L381.13 196.76L384.01 197.11L386.89 197.46L389.77 197.84L392.64 198.16L395.52 198.32L398.4 198.29L401.28 198.19L404.16 198.03L407.04 197.82L409.91 197.59L412.79 197.24L415.67 196.72L418.55 196.17L421.43 195.72L424.31 195.4L427.19 195.09L430.06 194.83L432.94 194.69L435.82 194.71L438.7 194.88L441.58 195.14L444.45 195.41L447.33 195.68L450.21 196L453.09 196.35L455.97 196.72L458.85 197.1L461.72 197.47L464.6 197.86L467.48 198.26L470.36 198.67L473.24 199.09L476.12 199.5L479 199.9L481.87 200.29L484.75 200.68L487.63 201.06L490.51 201.43L493.39 201.8L496.26 202.15L499.14 202.5L502.02 202.85L504.9 203.18L504.9 207.8Z" fill="none" stroke="#000" stroke-width="0.9" stroke-linejoin="miter"/>
<text transform="translate(521.05 191.4) rotate(90)" text-anchor="middle" font-size="6.2" fill="#111">RNSC</text>
<rect x="320.5" y="214.4" width="195.9" height="38.2" fill="#ebebeb"/>
<rect x="516.6" y="214.4" width="13.3" height="38.2" fill="#d9d9d9"/>
<path d="M353.79 214.4V252.6M396.96 214.4V252.6M440.14 214.4V252.6M483.31 214.4V252.6M320.5 244.47H516.4M320.5 234.02H516.4M320.5 223.57H516.4" stroke="#ffffff" stroke-width="0.4" fill="none"/>
<text x="317.6" y="251.95" text-anchor="end" font-size="6.3" fill="#4d4d4d">0</text>
<text x="317.6" y="241.5" text-anchor="end" font-size="6.3" fill="#4d4d4d">1</text>
<text x="317.6" y="231.05" text-anchor="end" font-size="6.3" fill="#4d4d4d">2</text>
<text x="317.6" y="220.6" text-anchor="end" font-size="6.3" fill="#4d4d4d">3</text>
<path d="M332.2 214.4V252.6M375.38 214.4V252.6M418.55 214.4V252.6M461.72 214.4V252.6M504.9 214.4V252.6M320.5 249.7H516.4M320.5 239.25H516.4M320.5 228.8H516.4M320.5 218.35H516.4" stroke="#ffffff" stroke-width="0.75" fill="none"/>
<path d="M320.5 249.7h-1.6M320.5 239.25h-1.6M320.5 228.8h-1.6M320.5 218.35h-1.6" stroke="#333" stroke-width="0.6" fill="none"/>
<path d="M347.09 249.7H353.04V240.92H347.09ZM353.04 249.7H359V238.73H353.04ZM359 249.7H364.95V236.53H359ZM364.95 249.7H370.91V234.34H364.95ZM370.91 249.7H376.86V215.32H370.91ZM376.86 249.7H382.82V232.14H376.86ZM382.82 249.7H388.77V232.14H382.82ZM388.77 249.7H394.73V227.75H388.77ZM394.73 249.7H400.68V223.37H394.73ZM400.68 249.7H406.64V216.68H400.68ZM406.64 249.7H412.59V220.44H406.64ZM412.59 249.7H418.55V216.68H412.59ZM418.55 249.7H424.51V241.86H418.55ZM424.51 249.7H430.46V241.86H424.51ZM430.46 249.7H436.42V245.52H430.46ZM436.42 249.7H442.37V240.92H436.42ZM442.37 249.7H448.33V244.47H442.37ZM448.33 249.7H454.28V245.52H448.33ZM454.28 249.7H460.24V248.66H454.28ZM472.15 249.7H478.1V247.61H472.15ZM501.92 249.7H507.88V248.13H501.92Z" fill="#A58AFF"/>
<path d="M332.2 249.7L332.2 249.7L335.08 249.6L337.96 249.35L340.83 248.85L343.71 247.85L346.59 246.11L349.47 243.74L352.35 241.71L355.23 239.72L358.1 237.72L360.98 235.61L363.86 233.53L366.74 231.62L369.62 229.76L372.5 228.13L375.38 227.26L378.25 226.92L381.13 227.41L384.01 228.11L386.89 228.21L389.77 227.61L392.64 226.71L395.52 225.33L398.4 223.57L401.28 222.15L404.16 220.89L407.04 220.48L409.91 221.55L412.79 223.35L415.67 226.35L418.55 230.41L421.43 234.76L424.31 237.72L427.19 240.01L430.06 241.35L432.94 242.13L435.82 242.8L438.7 243.51L441.58 244.2L444.45 244.9L447.33 245.63L450.21 246.36L453.09 247.09L455.97 247.92L458.85 248.63L461.72 248.85L464.6 248.96L467.48 249.03L470.36 249.07L473.24 249.1L476.12 249.13L479 249.15L481.87 249.16L484.75 249.17L487.63 249.18L490.51 249.18L493.39 249.18L496.26 249.18L499.14 249.18L502.02 249.18L504.9 249.18L504.9 249.7Z" fill="none" stroke="#000" stroke-width="0.9" stroke-linejoin="miter"/>
<text transform="translate(521.05 233.5) rotate(90)" text-anchor="middle" font-size="6.2" fill="#111">PPSampler2</text>
<rect x="320.5" y="256.5" width="195.9" height="38.2" fill="#ebebeb"/>
<rect x="516.6" y="256.5" width="13.3" height="38.2" fill="#d9d9d9"/>
<path d="M353.79 256.5V294.7M396.96 256.5V294.7M440.14 256.5V294.7M483.31 256.5V294.7M320.5 285.85H516.4M320.5 274.95H516.4M320.5 264.05H516.4" stroke="#ffffff" stroke-width="0.4" fill="none"/>
<text x="317.6" y="293.55" text-anchor="end" font-size="6.3" fill="#4d4d4d">0</text>
<text x="317.6" y="282.65" text-anchor="end" font-size="6.3" fill="#4d4d4d">1</text>
<text x="317.6" y="271.75" text-anchor="end" font-size="6.3" fill="#4d4d4d">2</text>
<text x="317.6" y="260.85" text-anchor="end" font-size="6.3" fill="#4d4d4d">3</text>
<path d="M332.2 256.5V294.7M375.38 256.5V294.7M418.55 256.5V294.7M461.72 256.5V294.7M504.9 256.5V294.7M320.5 291.3H516.4M320.5 280.4H516.4M320.5 269.5H516.4M320.5 258.6H516.4" stroke="#ffffff" stroke-width="0.75" fill="none"/>
<path d="M320.5 291.3h-1.6M320.5 280.4h-1.6M320.5 269.5h-1.6M320.5 258.6h-1.6" stroke="#333" stroke-width="0.6" fill="none"/>
<path d="M335.18 291.3H341.13V277.68H335.18ZM347.09 291.3H353.04V284.49H347.09ZM353.04 291.3H359V277.68H353.04ZM359 291.3H364.95V270.86H359ZM364.95 291.3H370.91V284.49H364.95ZM370.91 291.3H376.86V270.86H370.91ZM376.86 291.3H382.82V270.86H376.86ZM382.82 291.3H388.77V277.68H382.82ZM388.77 291.3H394.73V284.49H388.77ZM394.73 291.3H400.68V284.49H394.73ZM400.68 291.3H406.64V270.86H400.68ZM406.64 291.3H412.59V277.68H406.64ZM424.51 291.3H430.46V277.68H424.51ZM430.46 291.3H436.42V277.68H430.46ZM436.42 291.3H442.37V284.49H436.42ZM442.37 291.3H448.33V284.49H442.37ZM448.33 291.3H454.28V284.49H448.33ZM454.28 291.3H460.24V270.86H454.28ZM460.24 291.3H466.19V257.24H460.24ZM472.15 291.3H478.1V284.49H472.15ZM484.06 291.3H490.01V270.86H484.06ZM495.97 291.3H501.92V277.68H495.97ZM501.92 291.3H507.88V284.49H501.92Z" fill="#FB61D7"/>
<path d="M332.2 291.3L332.2 287.7L335.08 286.66L337.96 285.68L340.83 284.76L343.71 283.91L346.59 283.11L349.47 282.36L352.35 281.66L355.23 280.99L358.1 280.4L360.98 279.85L363.86 279.36L366.74 278.98L369.62 278.68L372.5 278.42L375.38 278.25L378.25 278.23L381.13 278.33L384.01 278.51L386.89 278.72L389.77 278.97L392.64 279.3L395.52 279.69L398.4 280.07L401.28 280.4L404.16 280.7L407.04 281.01L409.91 281.3L412.79 281.57L415.67 281.78L418.55 281.93L421.43 282.03L424.31 282.11L427.19 282.14L430.06 282.07L432.94 281.9L435.82 281.71L438.7 281.47L441.58 281.15L444.45 280.83L447.33 280.55L450.21 280.37L453.09 280.24L455.97 280.14L458.85 280.08L461.72 280.1L464.6 280.21L467.48 280.4L470.36 280.62L473.24 280.9L476.12 281.28L479 281.73L481.87 282.2L484.75 282.67L487.63 283.15L490.51 283.67L493.39 284.2L496.26 284.76L499.14 285.35L502.02 285.97L504.9 286.61L504.9 291.3Z" fill="none" stroke="#000" stroke-width="0.9" stroke-linejoin="miter"/>
<text transform="translate(521.05 275.6) rotate(90)" text-anchor="middle" font-size="6.2" fill="#111">PEWCC</text>
<text x="332.2" y="301.6" text-anchor="middle" font-size="6.3" fill="#4d4d4d">0.00</text>
<text x="375.38" y="301.6" text-anchor="middle" font-size="6.3" fill="#4d4d4d">0.25</text>
<text x="418.55" y="301.6" text-anchor="middle" font-size="6.3" fill="#4d4d4d">0.50</text>
<text x="461.72" y="301.6" text-anchor="middle" font-size="6.3" fill="#4d4d4d">0.75</text>
<text x="504.9" y="301.6" text-anchor="middle" font-size="6.3" fill="#4d4d4d">1.00</text>
<path d="M332.2 294.7v2M375.38 294.7v2M418.55 294.7v2M461.72 294.7v2M504.9 294.7v2" stroke="#333" stroke-width="0.6" fill="none"/>
<text transform="translate(307.3 149.3) rotate(-90)" text-anchor="middle" font-size="7.8" fill="#000" stroke="#000" stroke-width="0.1">Density</text>
<rect x="328.2" y="352.6" width="190.4" height="37.9" fill="#ebebeb"/>
<rect x="518.8" y="352.6" width="13.1" height="37.9" fill="#d9d9d9"/>
<path d="M360.78 352.6V390.5M402.73 352.6V390.5M444.68 352.6V390.5M486.62 352.6V390.5M328.2 382.8H518.6M328.2 370.4H518.6M328.2 358H518.6" stroke="#ffffff" stroke-width="0.4" fill="none"/>
<text x="325" y="391.25" text-anchor="end" font-size="6.3" fill="#4d4d4d">0</text>
<text x="325" y="378.85" text-anchor="end" font-size="6.3" fill="#4d4d4d">2</text>
<text x="325" y="366.45" text-anchor="end" font-size="6.3" fill="#4d4d4d">4</text>
<path d="M339.8 352.6V390.5M381.75 352.6V390.5M423.7 352.6V390.5M465.65 352.6V390.5M507.6 352.6V390.5M328.2 389H518.6M328.2 376.6H518.6M328.2 364.2H518.6" stroke="#ffffff" stroke-width="0.75" fill="none"/>
<path d="M328.2 389h-1.6M328.2 376.6h-1.6M328.2 364.2h-1.6" stroke="#333" stroke-width="0.6" fill="none"/>
<path d="M360.05 389H365.84V387.76H360.05ZM365.84 389H371.62V387.14H365.84ZM371.62 389H377.41V386.83H371.62ZM377.41 389H383.2V376.1H377.41ZM383.2 389H388.98V382.8H383.2ZM388.98 389H394.77V380.32H388.98ZM394.77 389H400.56V380.32H394.77ZM400.56 389H406.34V382.49H400.56ZM406.34 389H412.13V382.49H406.34ZM412.13 389H417.91V379.39H412.13ZM417.91 389H423.7V380.32H417.91ZM423.7 389H429.49V384.66H423.7ZM429.49 389H435.27V377.59H429.49ZM435.27 389H441.06V379.08H435.27ZM441.06 389H446.84V382.18H441.06ZM446.84 389H452.63V384.66H446.84ZM452.63 389H458.42V383.61H452.63ZM458.42 389H464.2V381.75H458.42ZM464.2 389H469.99V384.66H464.2ZM469.99 389H475.78V380.94H469.99ZM475.78 389H481.56V387.14H475.78ZM481.56 389H487.35V386.52H481.56ZM487.35 389H493.13V382.8H487.35ZM493.13 389H498.92V386.52H493.13ZM498.92 389H504.71V377.96H498.92ZM504.71 389H510.49V354.09H504.71Z" fill="#F8766D"/>
<path d="M339.8 389L339.8 389L342.6 388.85L345.39 388.63L348.19 388.38L350.99 388.06L353.78 387.66L356.58 387.25L359.38 386.82L362.17 386.36L364.97 385.9L367.77 385.43L370.56 384.95L373.36 384.46L376.16 383.96L378.95 383.39L381.75 382.81L384.55 382.26L387.34 381.82L390.14 381.49L392.94 381.2L395.73 380.99L398.53 380.89L401.33 380.83L404.12 380.83L406.92 380.93L409.72 381.09L412.51 381.28L415.31 381.44L418.11 381.58L420.9 381.73L423.7 381.88L426.5 382L429.29 382.07L432.09 382.1L434.89 382.12L437.68 382.16L440.48 382.29L443.28 382.69L446.07 383.23L448.87 383.72L451.67 384.01L454.46 384.25L457.26 384.44L460.06 384.53L462.85 384.54L465.65 384.54L468.45 384.53L471.24 384.45L474.04 384.31L476.84 384.1L479.63 383.87L482.43 383.61L485.23 383.2L488.02 382.61L490.82 381.97L493.62 381.45L496.41 381.07L499.21 380.71L502.01 380.48L504.8 380.49L507.6 380.82L507.6 389Z" fill="none" stroke="#000" stroke-width="0.9" stroke-linejoin="miter"/>
<text transform="translate(523.15 371.55) rotate(90)" text-anchor="middle" font-size="6.2" fill="#111">ClusterONE</text>
<rect x="328.2" y="394.52" width="190.4" height="37.9" fill="#ebebeb"/>
<rect x="518.8" y="394.52" width="13.1" height="37.9" fill="#d9d9d9"/>
<path d="M360.78 394.52V432.42M402.73 394.52V432.42M444.68 394.52V432.42M486.62 394.52V432.42M328.2 425.81H518.6M328.2 415.44H518.6M328.2 405.07H518.6M328.2 394.7H518.6" stroke="#ffffff" stroke-width="0.4" fill="none"/>
<text x="325" y="433.25" text-anchor="end" font-size="6.3" fill="#4d4d4d">0</text>
<text x="325" y="422.88" text-anchor="end" font-size="6.3" fill="#4d4d4d">1</text>
<text x="325" y="412.51" text-anchor="end" font-size="6.3" fill="#4d4d4d">2</text>
<text x="325" y="402.14" text-anchor="end" font-size="6.3" fill="#4d4d4d">3</text>
<path d="M339.8 394.52V432.42M381.75 394.52V432.42M423.7 394.52V432.42M465.65 394.52V432.42M507.6 394.52V432.42M328.2 431H518.6M328.2 420.63H518.6M328.2 410.26H518.6M328.2 399.89H518.6" stroke="#ffffff" stroke-width="0.75" fill="none"/>
<path d="M328.2 431h-1.6M328.2 420.63h-1.6M328.2 410.26h-1.6M328.2 399.89h-1.6" stroke="#333" stroke-width="0.6" fill="none"/>
<path d="M354.27 431H360.05V414.82H354.27ZM360.05 431H365.84V411.5H360.05ZM365.84 431H371.62V411.5H365.84ZM371.62 431H377.41V417.73H371.62ZM377.41 431H383.2V399.16H377.41ZM383.2 431H388.98V414.82H383.2ZM388.98 431H394.77V417.73H388.98ZM394.77 431H400.56V396.16H394.77ZM400.56 431H406.34V417.73H400.56ZM406.34 431H412.13V427.37H406.34ZM412.13 431H417.91V417.73H412.13ZM417.91 431H423.7V417.73H417.91ZM423.7 431H429.49V420.32H423.7ZM429.49 431H435.27V417.73H429.49ZM435.27 431H441.06V420.01H435.27ZM441.06 431H446.84V420.01H441.06ZM446.84 431H452.63V417.73H446.84ZM452.63 431H458.42V423.74H452.63ZM458.42 431H464.2V414.82H458.42ZM464.2 431H469.99V420.94H464.2ZM469.99 431H475.78V424.16H469.99ZM481.56 431H487.35V427.89H481.56ZM493.13 431H498.92V427.58H493.13ZM498.92 431H504.71V427.58H498.92Z" fill="#C49A00"/>
<path d="M339.8 431L339.8 428.41L342.6 427.64L345.39 426.6L348.19 425.28L350.99 423.52L353.78 421.55L356.58 419.68L359.38 417.74L362.17 415.85L364.97 414.41L367.77 413.38L370.56 412.51L373.36 411.86L376.16 411.48L378.95 411.21L381.75 411.09L384.55 411.2L387.34 411.48L390.14 411.87L392.94 412.35L395.73 413.2L398.53 414.28L401.33 415.36L404.12 416.21L406.92 417L409.72 417.7L412.51 418.23L415.31 418.67L418.11 419.05L420.9 419.36L423.7 419.59L426.5 419.77L429.29 419.9L432.09 420.02L434.89 420.14L437.68 420.26L440.48 420.41L443.28 420.54L446.07 420.67L448.87 420.81L451.67 420.98L454.46 421.19L457.26 421.46L460.06 421.96L462.85 422.73L465.65 423.59L468.45 424.35L471.24 425.16L474.04 425.98L476.84 426.73L479.63 427.31L482.43 427.67L485.23 427.92L488.02 428.13L490.82 428.33L493.62 428.56L496.41 428.85L499.21 429.17L502.01 429.51L504.8 429.88L507.6 430.27L507.6 431Z" fill="none" stroke="#000" stroke-width="0.9" stroke-linejoin="miter"/>
<text transform="translate(523.15 413.47) rotate(90)" text-anchor="middle" font-size="6.2" fill="#111">MCL</text>
<rect x="328.2" y="436.44" width="190.4" height="37.9" fill="#ebebeb"/>
<rect x="518.8" y="436.44" width="13.1" height="37.9" fill="#d9d9d9"/>
<path d="M360.78 436.44V474.34M402.73 436.44V474.34M444.68 436.44V474.34M486.62 436.44V474.34M328.2 466.7H518.6M328.2 454.5H518.6M328.2 442.3H518.6" stroke="#ffffff" stroke-width="0.4" fill="none"/>
<text x="325" y="475.05" text-anchor="end" font-size="6.3" fill="#4d4d4d">0</text>
<text x="325" y="462.85" text-anchor="end" font-size="6.3" fill="#4d4d4d">2</text>
<text x="325" y="450.65" text-anchor="end" font-size="6.3" fill="#4d4d4d">4</text>
<path d="M339.8 436.44V474.34M381.75 436.44V474.34M423.7 436.44V474.34M465.65 436.44V474.34M507.6 436.44V474.34M328.2 472.8H518.6M328.2 460.6H518.6M328.2 448.4H518.6" stroke="#ffffff" stroke-width="0.75" fill="none"/>
<path d="M328.2 472.8h-1.6M328.2 460.6h-1.6M328.2 448.4h-1.6" stroke="#333" stroke-width="0.6" fill="none"/>
<path d="M354.27 472.8H360.05V469.44H354.27ZM360.05 472.8H365.84V465.85H360.05ZM365.84 472.8H371.62V465.85H365.84ZM371.62 472.8H377.41V468.53H371.62ZM377.41 472.8H383.2V451.75H377.41ZM388.98 472.8H394.77V465.85H388.98ZM394.77 472.8H400.56V462.25H394.77ZM412.13 472.8H417.91V465.85H412.13ZM417.91 472.8H423.7V464.02H417.91ZM423.7 472.8H429.49V462.25H423.7ZM429.49 472.8H435.27V464.02H429.49ZM435.27 472.8H441.06V465.85H435.27ZM441.06 472.8H446.84V469.26H441.06ZM446.84 472.8H452.63V465.85H446.84ZM452.63 472.8H458.42V464.02H452.63ZM458.42 472.8H464.2V467.92H458.42ZM464.2 472.8H469.99V465.85H464.2ZM469.99 472.8H475.78V469.26H469.99ZM475.78 472.8H481.56V470.97H475.78ZM481.56 472.8H487.35V469.26H481.56ZM487.35 472.8H493.13V469.26H487.35ZM493.13 472.8H498.92V470.97H493.13ZM498.92 472.8H504.71V467.31H498.92ZM504.71 472.8H510.49V438.03H504.71Z" fill="#53B400"/>
<path d="M339.8 472.8L339.8 472.68L342.6 472.49L345.39 472.21L348.19 471.88L350.99 471.45L353.78 470.9L356.58 470.36L359.38 469.84L362.17 469.32L364.97 468.84L367.77 468.39L370.56 467.97L373.36 467.62L376.16 467.28L378.95 466.99L381.75 466.82L384.55 466.76L387.34 466.72L390.14 466.7L392.94 466.72L395.73 466.78L398.53 466.85L401.33 466.93L404.12 466.98L406.92 467L409.72 466.97L412.51 466.88L415.31 466.76L418.11 466.62L420.9 466.49L423.7 466.4L426.5 466.31L429.29 466.24L432.09 466.21L434.89 466.28L437.68 466.42L440.48 466.58L443.28 466.72L446.07 466.88L448.87 467.05L451.67 467.23L454.46 467.42L457.26 467.62L460.06 467.85L462.85 468.13L465.65 468.42L468.45 468.69L471.24 468.9L474.04 469.02L476.84 469.08L479.63 469.12L482.43 469.14L485.23 469.04L488.02 468.81L490.82 468.53L493.62 468.15L496.41 467.69L499.21 467.31L502.01 467.05L504.8 466.84L507.6 466.7L507.6 472.8Z" fill="none" stroke="#000" stroke-width="0.9" stroke-linejoin="miter"/>
<text transform="translate(523.15 455.39) rotate(90)" text-anchor="middle" font-size="6.2" fill="#111">MCODE</text>
<rect x="328.2" y="478.36" width="190.4" height="37.9" fill="#ebebeb"/>
<rect x="518.8" y="478.36" width="13.1" height="37.9" fill="#d9d9d9"/>
<path d="M360.78 478.36V516.26M402.73 478.36V516.26M444.68 478.36V516.26M486.62 478.36V516.26M328.2 509.35H518.6M328.2 498.85H518.6M328.2 488.35H518.6" stroke="#ffffff" stroke-width="0.4" fill="none"/>
<text x="325" y="516.85" text-anchor="end" font-size="6.3" fill="#4d4d4d">0</text>
<text x="325" y="506.35" text-anchor="end" font-size="6.3" fill="#4d4d4d">1</text>
<text x="325" y="495.85" text-anchor="end" font-size="6.3" fill="#4d4d4d">2</text>
<text x="325" y="485.35" text-anchor="end" font-size="6.3" fill="#4d4d4d">3</text>
<path d="M339.8 478.36V516.26M381.75 478.36V516.26M423.7 478.36V516.26M465.65 478.36V516.26M507.6 478.36V516.26M328.2 514.6H518.6M328.2 504.1H518.6M328.2 493.6H518.6M328.2 483.1H518.6" stroke="#ffffff" stroke-width="0.75" fill="none"/>
<path d="M328.2 514.6h-1.6M328.2 504.1h-1.6M328.2 493.6h-1.6M328.2 483.1h-1.6" stroke="#333" stroke-width="0.6" fill="none"/>
<path d="M360.05 514.6H365.84V511.45H360.05ZM365.84 514.6H371.62V501.37H365.84ZM371.62 514.6H377.41V509.88H371.62ZM377.41 514.6H383.2V509.88H377.41ZM383.2 514.6H388.98V501.37H383.2ZM388.98 514.6H394.77V492.97H388.98ZM394.77 514.6H400.56V503.47H394.77ZM400.56 514.6H406.34V501.37H400.56ZM412.13 514.6H417.91V505.15H412.13ZM417.91 514.6H423.7V501.37H417.91ZM423.7 514.6H429.49V479.95H423.7ZM429.49 514.6H435.27V492.97H429.49ZM435.27 514.6H441.06V501.37H435.27ZM441.06 514.6H446.84V496.86H441.06ZM446.84 514.6H452.63V496.86H446.84ZM452.63 514.6H458.42V503.47H452.63ZM458.42 514.6H464.2V501.37H458.42ZM464.2 514.6H469.99V496.86H464.2ZM469.99 514.6H475.78V496.86H469.99ZM475.78 514.6H481.56V503.47H475.78ZM487.35 514.6H493.13V505.99H487.35ZM493.13 514.6H498.92V505.99H493.13ZM498.92 514.6H504.71V505.99H498.92ZM504.71 514.6H510.49V501.37H504.71Z" fill="#00C094"/>
<path d="M339.8 514.6L339.8 514.6L342.6 514.23L345.39 513.8L348.19 513.34L350.99 512.83L353.78 512.27L356.58 511.65L359.38 510.94L362.17 510.16L364.97 509.35L367.77 508.47L370.56 507.53L373.36 506.65L376.16 505.93L378.95 505.27L381.75 504.71L384.55 504.27L387.34 503.96L390.14 503.71L392.94 503.47L395.73 503.2L398.53 502.93L401.33 502.65L404.12 502.35L406.92 501.99L409.72 501.54L412.51 501.03L415.31 500.5L418.11 499.99L420.9 499.48L423.7 498.9L426.5 498.46L429.29 498.33L432.09 498.33L434.89 498.35L437.68 498.63L440.48 499.1L443.28 499.63L446.07 500.09L448.87 500.54L451.67 501.01L454.46 501.46L457.26 501.88L460.06 502.24L462.85 502.52L465.65 502.76L468.45 503.02L471.24 503.32L474.04 503.74L476.84 504.31L479.63 504.97L482.43 505.63L485.23 506.22L488.02 506.8L490.82 507.38L493.62 507.93L496.41 508.43L499.21 508.88L502.01 509.28L504.8 509.65L507.6 509.98L507.6 514.6Z" fill="none" stroke="#000" stroke-width="0.9" stroke-linejoin="miter"/>
<text transform="translate(523.15 497.31) rotate(90)" text-anchor="middle" font-size="6.2" fill="#111">Proposed</text>
<rect x="328.2" y="520.28" width="190.4" height="37.9" fill="#ebebeb"/>
<rect x="518.8" y="520.28" width="13.1" height="37.9" fill="#d9d9d9"/>
<path d="M360.78 520.28V558.18M402.73 520.28V558.18M444.68 520.28V558.18M486.62 520.28V558.18M328.2 550.12H518.6M328.2 537.18H518.6M328.2 524.23H518.6" stroke="#ffffff" stroke-width="0.4" fill="none"/>
<text x="325" y="558.85" text-anchor="end" font-size="6.3" fill="#4d4d4d">0</text>
<text x="325" y="545.9" text-anchor="end" font-size="6.3" fill="#4d4d4d">1</text>
<text x="325" y="532.95" text-anchor="end" font-size="6.3" fill="#4d4d4d">2</text>
<path d="M339.8 520.28V558.18M381.75 520.28V558.18M423.7 520.28V558.18M465.65 520.28V558.18M507.6 520.28V558.18M328.2 556.6H518.6M328.2 543.65H518.6M328.2 530.7H518.6" stroke="#ffffff" stroke-width="0.75" fill="none"/>
<path d="M328.2 556.6h-1.6M328.2 543.65h-1.6M328.2 530.7h-1.6" stroke="#333" stroke-width="0.6" fill="none"/>
<path d="M354.27 556.6H360.05V551.16H354.27ZM360.05 556.6H365.84V547.79H360.05ZM365.84 556.6H371.62V536.27H365.84ZM371.62 556.6H377.41V546.5H371.62ZM377.41 556.6H383.2V536.27H377.41ZM383.2 556.6H388.98V531.61H383.2ZM388.98 556.6H394.77V546.24H388.98ZM394.77 556.6H400.56V536.27H394.77ZM400.56 556.6H406.34V526.69H400.56ZM406.34 556.6H412.13V536.27H406.34ZM417.91 556.6H423.7V536.27H417.91ZM423.7 556.6H429.49V521.38H423.7ZM435.27 556.6H441.06V531.61H435.27ZM441.06 556.6H446.84V546.24H441.06ZM446.84 556.6H452.63V526.69H446.84ZM452.63 556.6H458.42V541.45H452.63ZM458.42 556.6H464.2V541.45H458.42ZM464.2 556.6H469.99V536.27H464.2ZM469.99 556.6H475.78V536.27H469.99ZM475.78 556.6H481.56V551.42H475.78ZM487.35 556.6H493.13V551.42H487.35ZM498.92 556.6H504.71V551.42H498.92ZM504.71 556.6H510.49V551.42H504.71Z" fill="#00B6EB"/>
<path d="M339.8 556.6L339.8 556.21L342.6 555.37L345.39 554.41L348.19 553.36L350.99 552.17L353.78 550.85L356.58 549.49L359.38 548.06L362.17 546.59L364.97 545.18L367.77 543.86L370.56 542.56L373.36 541.39L376.16 540.45L378.95 539.63L381.75 538.93L384.55 538.43L387.34 538.02L390.14 537.7L392.94 537.56L395.73 537.61L398.53 537.72L401.33 537.86L404.12 538L406.92 538.11L409.72 538.21L412.51 538.31L415.31 538.42L418.11 538.51L420.9 538.61L423.7 538.69L426.5 538.76L429.29 538.82L432.09 538.86L434.89 538.88L437.68 538.9L440.48 538.91L443.28 538.92L446.07 538.94L448.87 538.97L451.67 539.02L454.46 539.22L457.26 539.54L460.06 539.95L462.85 540.64L465.65 541.57L468.45 542.65L471.24 544L474.04 545.8L476.84 547.63L479.63 549.08L482.43 550.29L485.23 551.37L488.02 552.21L490.82 552.76L493.62 553.17L496.41 553.5L499.21 553.81L502.01 554.15L504.8 554.47L507.6 554.79L507.6 556.6Z" fill="none" stroke="#000" stroke-width="0.9" stroke-linejoin="miter"/>
<text transform="translate(523.15 539.23) rotate(90)" text-anchor="middle" font-size="6.2" fill="#111">RNSC</text>
<rect x="328.2" y="562.2" width="190.4" height="37.9" fill="#ebebeb"/>
<rect x="518.8" y="562.2" width="13.1" height="37.9" fill="#d9d9d9"/>
<path d="M360.78 562.2V600.1M402.73 562.2V600.1M444.68 562.2V600.1M486.62 562.2V600.1M328.2 593.34H518.6M328.2 583H518.6M328.2 572.67H518.6M328.2 562.35H518.6" stroke="#ffffff" stroke-width="0.4" fill="none"/>
<text x="325" y="600.75" text-anchor="end" font-size="6.3" fill="#4d4d4d">0</text>
<text x="325" y="590.42" text-anchor="end" font-size="6.3" fill="#4d4d4d">1</text>
<text x="325" y="580.09" text-anchor="end" font-size="6.3" fill="#4d4d4d">2</text>
<text x="325" y="569.76" text-anchor="end" font-size="6.3" fill="#4d4d4d">3</text>
<path d="M339.8 562.2V600.1M381.75 562.2V600.1M423.7 562.2V600.1M465.65 562.2V600.1M507.6 562.2V600.1M328.2 598.5H518.6M328.2 588.17H518.6M328.2 577.84H518.6M328.2 567.51H518.6" stroke="#ffffff" stroke-width="0.75" fill="none"/>
<path d="M328.2 598.5h-1.6M328.2 588.17h-1.6M328.2 577.84h-1.6M328.2 567.51h-1.6" stroke="#333" stroke-width="0.6" fill="none"/>
<path d="M371.62 598.5H377.41V595.92H371.62ZM377.41 598.5H383.2V563.38H377.41ZM383.2 598.5H388.98V596.02H383.2ZM394.77 598.5H400.56V590.86H394.77ZM400.56 598.5H406.34V592.61H400.56ZM406.34 598.5H412.13V590.86H406.34ZM412.13 598.5H417.91V586.1H412.13ZM417.91 598.5H423.7V578.87H417.91ZM423.7 598.5H429.49V571.64H423.7ZM429.49 598.5H435.27V574.33H429.49ZM435.27 598.5H441.06V578.87H435.27ZM441.06 598.5H446.84V579.6H441.06ZM446.84 598.5H452.63V580.94H446.84ZM452.63 598.5H458.42V580.94H452.63ZM458.42 598.5H464.2V575.77H458.42ZM464.2 598.5H469.99V584.76H464.2ZM469.99 598.5H475.78V584.76H469.99ZM475.78 598.5H481.56V593.95H475.78ZM481.56 598.5H487.35V595.3H481.56ZM487.35 598.5H493.13V595.3H487.35ZM493.13 598.5H498.92V596.02H493.13ZM498.92 598.5H504.71V586.93H498.92ZM504.71 598.5H510.49V571.64H504.71Z" fill="#A58AFF"/>
<path d="M339.8 598.5L339.8 598.5L342.6 598.5L345.39 598.5L348.19 598.5L350.99 598.5L353.78 598.5L356.58 598.5L359.38 598.44L362.17 598.26L364.97 597.98L367.77 597.11L370.56 595.55L373.36 592.91L376.16 590.18L378.95 587.56L381.75 586.99L384.55 587.17L387.34 588.97L390.14 590.9L392.94 592.68L395.73 593.09L398.53 593.3L401.33 593.25L404.12 592.45L406.92 591.27L409.72 589.63L412.51 587.49L415.31 585.22L418.11 582.69L420.9 580.56L423.7 578.67L426.5 577.42L429.29 577.12L432.09 577.01L434.89 577.5L437.68 578.52L440.48 579.39L443.28 579.99L446.07 580.51L448.87 580.73L451.67 580.65L454.46 580.5L457.26 580.42L460.06 580.69L462.85 581.29L465.65 582.62L468.45 584.52L471.24 586.5L474.04 588.82L476.84 590.95L479.63 592.45L482.43 593.61L485.23 593.85L488.02 593.85L490.82 593.85L493.62 593.04L496.41 591.38L499.21 589.69L502.01 588.02L504.8 587.51L507.6 588.69L507.6 598.5Z" fill="none" stroke="#000" stroke-width="0.9" stroke-linejoin="miter"/>
<text transform="translate(523.15 581.15) rotate(90)" text-anchor="middle" font-size="6.2" fill="#111">PPSampler2</text>
<rect x="328.2" y="604.12" width="190.4" height="37.9" fill="#ebebeb"/>
<rect x="518.8" y="604.12" width="13.1" height="37.9" fill="#d9d9d9"/>
<path d="M360.78 604.12V642.02M402.73 604.12V642.02M444.68 604.12V642.02M486.62 604.12V642.02M328.2 636.9H518.6M328.2 629.9H518.6M328.2 622.9H518.6M328.2 615.9H518.6M328.2 608.9H518.6" stroke="#ffffff" stroke-width="0.4" fill="none"/>
<text x="325" y="642.65" text-anchor="end" font-size="6.3" fill="#4d4d4d">0.0</text>
<text x="325" y="635.65" text-anchor="end" font-size="6.3" fill="#4d4d4d">0.5</text>
<text x="325" y="628.65" text-anchor="end" font-size="6.3" fill="#4d4d4d">1.0</text>
<text x="325" y="621.65" text-anchor="end" font-size="6.3" fill="#4d4d4d">1.5</text>
<text x="325" y="614.65" text-anchor="end" font-size="6.3" fill="#4d4d4d">2.0</text>
<text x="325" y="607.65" text-anchor="end" font-size="6.3" fill="#4d4d4d">2.5</text>
<path d="M339.8 604.12V642.02M381.75 604.12V642.02M423.7 604.12V642.02M465.65 604.12V642.02M507.6 604.12V642.02M328.2 640.4H518.6M328.2 633.4H518.6M328.2 626.4H518.6M328.2 619.4H518.6M328.2 612.4H518.6M328.2 605.4H518.6" stroke="#ffffff" stroke-width="0.75" fill="none"/>
<path d="M328.2 640.4h-1.6M328.2 633.4h-1.6M328.2 626.4h-1.6M328.2 619.4h-1.6M328.2 612.4h-1.6M328.2 605.4h-1.6" stroke="#333" stroke-width="0.6" fill="none"/>
<path d="M336.91 640.4H342.69V625.28H336.91ZM342.69 640.4H348.48V635.36H342.69ZM348.48 640.4H354.27V625.28H348.48ZM354.27 640.4H360.05V635.36H354.27ZM360.05 640.4H365.84V625.28H360.05ZM365.84 640.4H371.62V615.2H365.84ZM371.62 640.4H377.41V620.24H371.62ZM377.41 640.4H383.2V630.32H377.41ZM383.2 640.4H388.98V615.2H383.2ZM388.98 640.4H394.77V630.32H388.98ZM394.77 640.4H400.56V625.28H394.77ZM406.34 640.4H412.13V630.32H406.34ZM412.13 640.4H417.91V630.32H412.13ZM417.91 640.4H423.7V630.32H417.91ZM423.7 640.4H429.49V610.16H423.7ZM429.49 640.4H435.27V635.36H429.49ZM435.27 640.4H441.06V625.28H435.27ZM441.06 640.4H446.84V605.12H441.06ZM452.63 640.4H458.42V630.32H452.63ZM458.42 640.4H464.2V620.24H458.42ZM464.2 640.4H469.99V625.28H464.2ZM469.99 640.4H475.78V610.16H469.99ZM475.78 640.4H481.56V630.32H475.78ZM481.56 640.4H487.35V630.32H481.56ZM487.35 640.4H493.13V615.2H487.35ZM493.13 640.4H498.92V635.36H493.13ZM498.92 640.4H504.71V630.32H498.92ZM504.71 640.4H510.49V635.36H504.71Z" fill="#FB61D7"/>
<path d="M339.8 640.4L339.8 632.84L342.6 631.8L345.39 630.81L348.19 629.9L350.99 629.03L353.78 628.22L356.58 627.52L359.38 626.91L362.17 626.38L364.97 625.98L367.77 625.66L370.56 625.39L373.36 625.28L376.16 625.35L378.95 625.51L381.75 625.7L384.55 625.96L387.34 626.31L390.14 626.69L392.94 627.04L395.73 627.37L398.53 627.72L401.33 628L404.12 628.08L406.92 628.01L409.72 627.88L412.51 627.71L415.31 627.52L418.11 627.29L420.9 626.99L423.7 626.65L426.5 626.3L429.29 625.97L432.09 625.7L434.89 625.46L437.68 625.23L440.48 625.01L443.28 624.82L446.07 624.67L448.87 624.58L451.67 624.53L454.46 624.49L457.26 624.45L460.06 624.44L462.85 624.49L465.65 624.69L468.45 624.98L471.24 625.33L474.04 625.7L476.84 626.13L479.63 626.66L482.43 627.28L485.23 627.95L488.02 628.64L490.82 629.4L493.62 630.25L496.41 631.12L499.21 632L502.01 632.87L504.8 633.76L507.6 634.66L507.6 640.4Z" fill="none" stroke="#000" stroke-width="0.9" stroke-linejoin="miter"/>
<text transform="translate(523.15 623.07) rotate(90)" text-anchor="middle" font-size="6.2" fill="#111">PEWCC</text>
<text x="339.8" y="649.8" text-anchor="middle" font-size="6.3" fill="#4d4d4d">0.00</text>
<text x="381.75" y="649.8" text-anchor="middle" font-size="6.3" fill="#4d4d4d">0.25</text>
<text x="423.7" y="649.8" text-anchor="middle" font-size="6.3" fill="#4d4d4d">0.50</text>
<text x="465.65" y="649.8" text-anchor="middle" font-size="6.3" fill="#4d4d4d">0.75</text>
<text x="507.6" y="649.8" text-anchor="middle" font-size="6.3" fill="#4d4d4d">1.00</text>
<path d="M339.8 642.02v2M381.75 642.02v2M423.7 642.02v2M465.65 642.02v2M507.6 642.02v2" stroke="#333" stroke-width="0.6" fill="none"/>
<text transform="translate(310.3 497.31) rotate(-90)" text-anchor="middle" font-size="7.8" fill="#000" stroke="#000" stroke-width="0.1">Density</text>
<text x="270.6" y="330.7" font-family="'DejaVu Sans', 'Liberation Sans', sans-serif" font-size="15" fill="#111">(a)</text>
<text x="285.3" y="682.1" font-family="'DejaVu Sans', 'Liberation Sans', sans-serif" font-size="15" fill="#111">(b)</text>
</svg>
</body>
</html>
